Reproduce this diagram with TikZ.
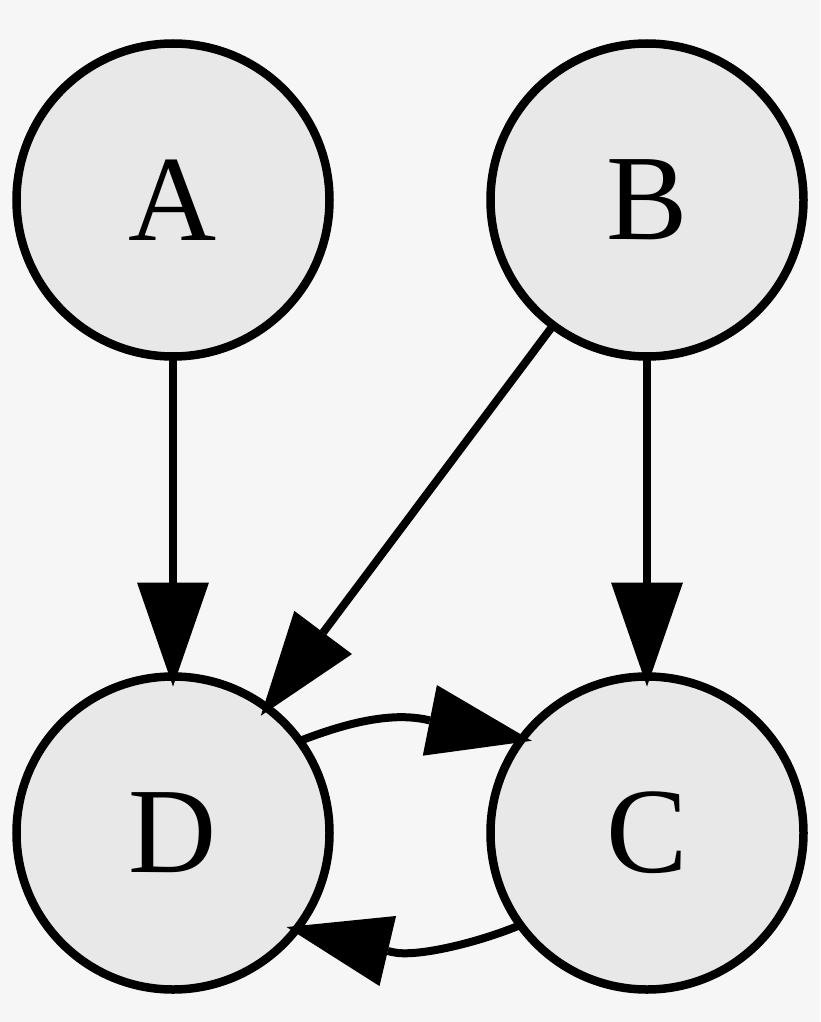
\documentclass[tikz,border=0pt]{standalone}
\usepackage{fontspec}
\setmainfont{Liberation Serif}
\usetikzlibrary{arrows.meta}
\definecolor{bgcol}{RGB}{246,246,246}
\definecolor{nodefill}{RGB}{232,232,232}
\begin{document}
\begin{tikzpicture}[x=1pt,y=-1pt,
  vertex/.style={circle, draw=black, line width=8.5pt, fill=nodefill,
    minimum size=313pt, inner sep=0pt, outer sep=0pt,
    font=\fontsize{122}{122}\selectfont},
  edge/.style={line width=8pt, draw=black,
    -{Triangle[length=104pt,width=72pt,line width=0pt]},
    shorten >=-10pt}]
\fill[bgcol] (0,0) rectangle (820,1022);
\useasboundingbox (0,0) rectangle (820,1022);
\node[vertex] (A) at (173,200) {A};
\node[vertex] (B) at (647,200) {B};
\node[vertex] (D) at (173,833) {D};
\node[vertex] (C) at (647,833) {C};
\coordinate (dcbase) at (428,720);
\coordinate (cdbase) at (392,952);
\draw[edge] (A) -- (D);
\draw[edge] (B) -- (C);
\draw[edge] (B) -- (D);
\draw[edge] (D.36) .. controls (341,725) and (389,711) .. (dcbase) -- (C.143);
\draw[edge] (C.216) .. controls (480,942) and (416,958) .. (cdbase) -- (D.322);
\end{tikzpicture}
\end{document}
